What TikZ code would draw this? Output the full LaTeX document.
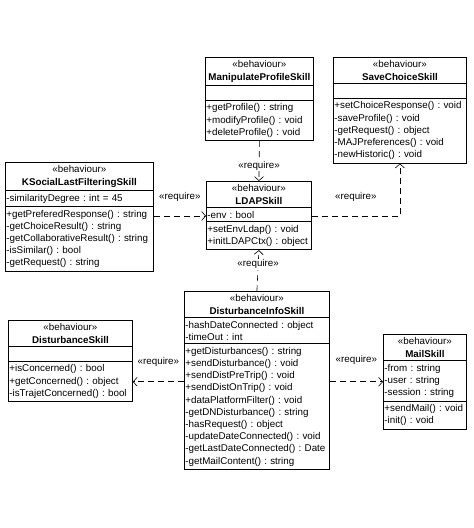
\documentclass[tikz,border=0pt]{standalone}
\usepackage{fontspec}
\setsansfont{Liberation Sans}
\usetikzlibrary{
	arrows.meta,
	calc,
	shapes.multipart
}
\tikzset{every path/.append style={line width=0.6pt}}
\tikzset{
	umlclass/.style={rectangle split,rectangle split parts=3,draw,line width=0.8pt,anchor=north west,
		text width=#1,align=left,inner xsep=1pt,inner ysep=3pt,
		font=\sffamily\fontsize{9.8}{12.2}\selectfont\frenchspacing},
	require/.style={dash pattern=on 6pt off 4pt,-{Straight Barb[length=4pt,width=9pt]}},
	stereo/.style={font=\sffamily\fontsize{9.8}{12.2}\selectfont,inner sep=1pt}
}
\newcommand{\tikzClass}[6]{\node (#1) at #2 [umlclass=#3]{\centering «behaviour»\par\textbf{#4}\par\nodepart{two}#5\nodepart{three}#6};}
\newcommand{\noAttr}{\rule{0pt}{8pt}}

\begin{document}
\begin{tikzpicture}[x=1pt,y=-1pt]
	\useasboundingbox (0,0) rectangle (474,528);

	\tikzClass{manip}{(205,57)}{106pt}{ManipulateProfileSkill}{\noAttr}{+getProfile() : string\\+modifyProfile() : void\\+deleteProfile() : void}
	\tikzClass{save}{(333,57)}{131pt}{SaveChoiceSkill}{\noAttr}{+setChoiceResponse() : void\\-saveProfile() : void\\-getRequest() : object\\-MAJPreferences() : void\\-newHistoric() : void}
	\tikzClass{ksocial}{(5,162)}{146pt}{KSocialLastFilteringSkill}{-similarityDegree : int = 45}{+getPreferedResponse() : string\\-getChoiceResult() : string\\-getCollaborativeResult() : string\\-isSimilar() : bool\\-getRequest() : string}
	\tikzClass{ldap}{(206,181)}{103pt}{LDAPSkill}{-env : bool}{+setEnvLdap() : void\\+initLDAPCtx() : object}
	\tikzClass{dskill}{(8,320)}{122pt}{DisturbanceSkill}{\noAttr}{+isConcerned() : bool\\+getConcerned() : object\\-isTrajetConcerned() : bool}
	\tikzClass{dinfo}{(184,291)}{143pt}{DisturbanceInfoSkill}{-hashDateConnected : object\\-timeOut : int}{+getDisturbances() : string\\+sendDisturbance() : void\\+sendDistPreTrip() : void\\+sendDistOnTrip() : void\\+dataPlatformFilter() : void\\-getDNDisturbance() : string\\-hasRequest() : object\\-updateDateConnected() : void\\-getLastDateConnected() : Date\\-getMailContent() : string}
	\tikzClass{mail}{(383,334)}{81pt}{MailSkill}{-from : string\\-user : string\\-session : string}{+sendMail() : void\\-init() : void}

	\coordinate (envline) at ($(ldap.text split west)!0.6!(ldap.two split west)$);
	\coordinate (concline) at ($(dskill.two split east)!0.5!(dskill.south east)$);

	\draw[require] (manip.south) -- node[stereo,fill=white,pos=0.62]{«require»} (ldap.north);
	\draw[require] (dinfo.north) -- node[stereo,fill=white,pos=0.65]{«require»} (ldap.south);
	\draw[require] (ksocial.east |- envline) -- node[stereo,above=13pt]{«require»} (envline);
	\draw[require] (ldap.east |- envline) -| node[stereo,pos=0.25,above=13pt]{«require»} (save.south);
	\draw[require] (dinfo.west |- concline) -- node[stereo,above=14pt]{«require»} (concline);
	\draw[require] (dinfo.east |- concline) -- node[stereo,above=16pt]{«require»} (mail.west |- concline);
\end{tikzpicture}
\end{document}
